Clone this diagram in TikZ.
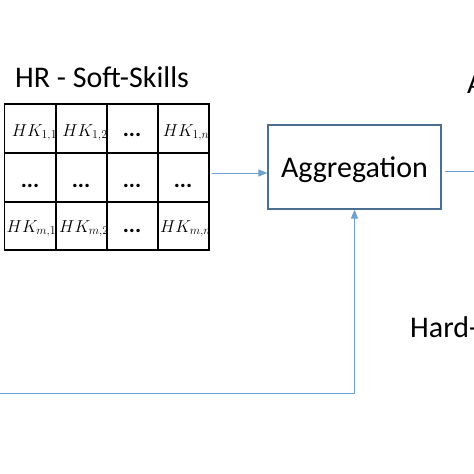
\documentclass[tikz,border=0pt]{standalone}
\usepackage{fontspec}
\setmainfont{Carlito}
\usetikzlibrary{arrows.meta,calc}
\definecolor{linkblue}{RGB}{110,160,210}
\definecolor{boxblue}{RGB}{75,110,145}
\begin{document}
\begin{tikzpicture}[x=1pt,y=-1pt,
  bigtext/.style={font=\fontsize{30}{36}\selectfont, inner sep=0pt},
  celltext/.style={font=\fontsize{18.5}{22}\selectfont, inner sep=0pt, anchor=base},
  dotstext/.style={font=\fontsize{23}{26}\selectfont\bfseries, inner sep=0pt, anchor=base},
  gridline/.style={line width=1.8pt, black},
  aggbox/.style={draw=boxblue, line width=1.3pt, minimum width=173pt, minimum height=84pt, inner sep=0pt, text depth=0pt, font=\fontsize{30}{36}\selectfont},
  link/.style={draw=linkblue, line width=1pt, -{Triangle[length=9pt,width=7pt]}},
  plainlink/.style={draw=linkblue, line width=1pt}]
\useasboundingbox (0,0) rectangle (474,474);
\fill[white] (0,0) rectangle (474,474);
\begin{scope}
\clip (0,0) rectangle (474,474);
% title
\node[bigtext, anchor=base] (title) at (102,87) {HR - Soft-Skills};
% grid
\node[draw=none, minimum width=204.5pt, minimum height=146pt, inner sep=0pt] (grid) at (106.75,177) {};
\draw[gridline] (4.5,104) rectangle (209,250);
\foreach \xx in {56,107,158} \draw[gridline] (\xx,104) -- (\xx,250);
\foreach \yy in {153,202} \draw[gridline] (4.5,\yy) -- (209,\yy);
% row 1
\node[celltext] (c11) at (34.5,136) {$HK_{1,1}$};
\node[celltext] (c12) at (85,136) {$HK_{1,2}$};
\node[dotstext] (c13) at (132,136) {...};
\node[celltext] (c14) at (186,136) {$HK_{1,n}$};
% row 2
\node[dotstext] (c21) at (30,187) {...};
\node[dotstext] (c22) at (81,187) {...};
\node[dotstext] (c23) at (132,187) {...};
\node[dotstext] (c24) at (183,187) {...};
% row 3
\node[celltext] (c31) at (31.5,232) {$HK_{m,1}$};
\node[celltext] (c32) at (84,232) {$HK_{m,2}$};
\node[dotstext] (c33) at (132,232) {...};
\node[celltext] (c34) at (185.5,232) {$HK_{m,n}$};
% aggregation
\node[aggbox] (agg) at (354.5,167) {Aggregation};
% partial texts
\node[bigtext, anchor=base west] (atext) at (467,93) {A};
\node[bigtext, anchor=base west] (hard) at (410,337) {Hard-};
% connectors
\coordinate (gout) at (212,173);
\draw[link] (gout) -- (gout -| agg.west);
\coordinate (aggout) at ($(agg.east)+(3,4)$);
\coordinate (rightend) at (474,171);
\draw[plainlink] (aggout) -- (rightend);
\coordinate (leftend) at (0,393);
\draw[link] (leftend) -- (leftend -| agg.south) -- (agg.south);
\end{scope}
\end{tikzpicture}
\end{document}
